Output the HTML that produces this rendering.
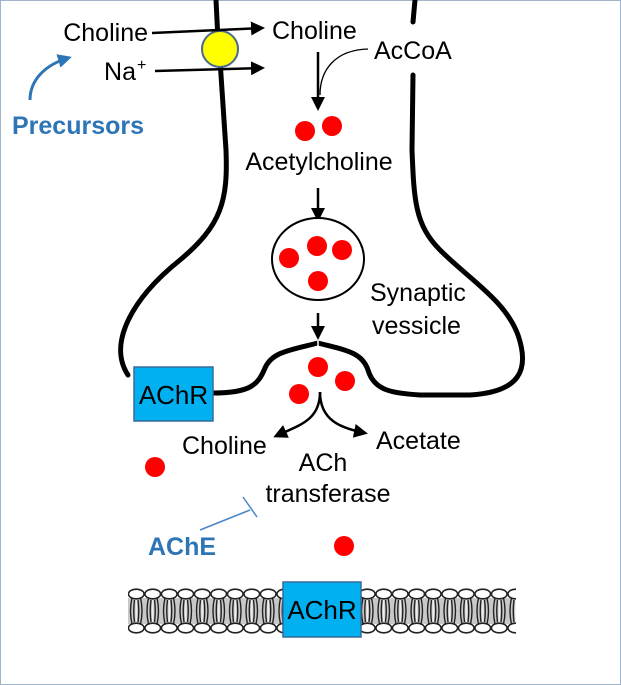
<!DOCTYPE html>
<html><head><style>
html,body{margin:0;padding:0;background:#fff;}
svg{display:block;}
text{font-family:"Liberation Sans",Arial,sans-serif;}
</style></head><body>
<svg width="621" height="685" viewBox="0 0 621 685" xmlns="http://www.w3.org/2000/svg">
<defs>
<marker id="ah" markerWidth="14" markerHeight="14" refX="11" refY="7" orient="auto" markerUnits="userSpaceOnUse"><path d="M0,0 L14,7 L0,14 Z" fill="#000"/></marker>
<marker id="ahb" markerWidth="14" markerHeight="14" refX="10" refY="7" orient="auto" markerUnits="userSpaceOnUse"><path d="M0,0 L14,7 L0,14 Z" fill="#2E75B6"/></marker>
<pattern id="lip" x="128" y="588" width="16.5" height="46" patternUnits="userSpaceOnUse">
<rect x="0" y="10" width="16.5" height="26" fill="#c8c8c8"/>
<ellipse cx="8.25" cy="6" rx="7.8" ry="4.8" fill="#fff" stroke="#222" stroke-width="1.6"/>
<ellipse cx="8.25" cy="40" rx="7.8" ry="4.8" fill="#fff" stroke="#222" stroke-width="1.6"/>
<path d="M4,10 Q1,23 4,36 M12.5,10 Q15.5,23 12.5,36 M6.5,12 Q5,23 6.5,34 M10,12 Q11.5,23 10,34" stroke="#222" stroke-width="1.4" fill="none"/>
<path d="M8.25,12 L8.25,34" stroke="#eee" stroke-width="1.5"/>
</pattern>
</defs>
<rect x="0.5" y="0.5" width="620" height="684" fill="#fff" stroke="#9fb4c8" stroke-width="1"/>

<g fill="none" stroke="#000" stroke-width="5" stroke-linecap="round">
<path d="M216,0 L218,40"/>
<path d="M220,60 L226,150 C228,200 222,225 180,260 C130,300 108,345 128,375"/>
<path d="M213,393 C250,393 258,385 265,368 C272,352 290,350 318,343 C345,350 362,352 368,370 C374,390 390,393 420,395 L470,395 C520,392 530,370 518,335 C505,300 470,280 440,250 C415,225 414,200 412,150 L413,75"/>
<path d="M415,0 L413,22"/>
</g>
<line x1="318" y1="340" x2="318" y2="347" stroke="#fff" stroke-width="1.5"/>

<rect x="128" y="588" width="388" height="46" fill="url(#lip)"/>

<circle cx="220" cy="49" r="18" fill="#ffff00" stroke="#4a6a8a" stroke-width="2"/>

<g stroke="#000" stroke-width="2.5" fill="none">
<line x1="152" y1="33" x2="262" y2="28" marker-end="url(#ah)"/>
<line x1="155" y1="71" x2="262" y2="68" marker-end="url(#ah)"/>
<line x1="318" y1="52" x2="318" y2="108" marker-end="url(#ah)"/>
<line x1="318" y1="188" x2="318" y2="219" marker-end="url(#ah)"/>
<line x1="318" y1="313" x2="318" y2="337" marker-end="url(#ah)"/>
<path d="M320,392 C320,420 300,425 276,436" marker-end="url(#ah)"/>
<path d="M320,392 C320,420 340,428 365,433" marker-end="url(#ah)"/>
</g>
<path d="M368,49 C335,50 320,70 320,95" stroke="#000" stroke-width="1.3" fill="none"/>
<path d="M30,100 C30,80 45,65 68,58" stroke="#2E75B6" stroke-width="3" fill="none" marker-end="url(#ahb)"/>
<line x1="200" y1="530" x2="250" y2="510" stroke="#4a86c8" stroke-width="1.5"/>
<line x1="243" y1="497" x2="257" y2="517" stroke="#4a86c8" stroke-width="1.5"/>

<ellipse cx="318" cy="259" rx="46" ry="41" fill="#fff" stroke="#000" stroke-width="2"/>
<g fill="#ff0000">
<circle cx="289" cy="258" r="10"/><circle cx="317" cy="246" r="10"/><circle cx="342" cy="250" r="10"/><circle cx="318" cy="281" r="10"/>
<circle cx="305" cy="131" r="10"/><circle cx="332" cy="126" r="10"/>
<circle cx="318" cy="367" r="10"/><circle cx="345" cy="381" r="10"/><circle cx="299" cy="394" r="10"/>
<circle cx="155" cy="467" r="10"/><circle cx="344" cy="546" r="10"/>
</g>

<rect x="134" y="367" width="79" height="54" fill="#00b0f0" stroke="#3a6a9a" stroke-width="1.5"/>
<text x="173.5" y="404" font-size="26" text-anchor="middle">AChR</text>
<rect x="283" y="582" width="78" height="55" fill="#00b0f0" stroke="#3a6a9a" stroke-width="1.5"/>
<text x="322" y="619" font-size="26" text-anchor="middle">AChR</text>

<g font-size="25" fill="#000">
<text x="148" y="41" text-anchor="end">Choline</text>
<text x="136" y="80" text-anchor="end">Na</text>
<text x="137" y="70" font-size="16">+</text>
<text x="272" y="39">Choline</text>
<text x="374" y="59">AcCoA</text>
<text x="319" y="170" text-anchor="middle">Acetylcholine</text>
<text x="370" y="301">Synaptic</text>
<text x="372" y="334">vessicle</text>
<text x="182" y="454">Choline</text>
<text x="376" y="449">Acetate</text>
<text x="323" y="471" text-anchor="middle">ACh</text>
<text x="328" y="502" text-anchor="middle">transferase</text>
</g>
<text x="12" y="134" font-size="25" font-weight="bold" fill="#2E75B6">Precursors</text>
<text x="148" y="555" font-size="25" font-weight="bold" fill="#2E75B6">AChE</text>
</svg>
</body></html>
